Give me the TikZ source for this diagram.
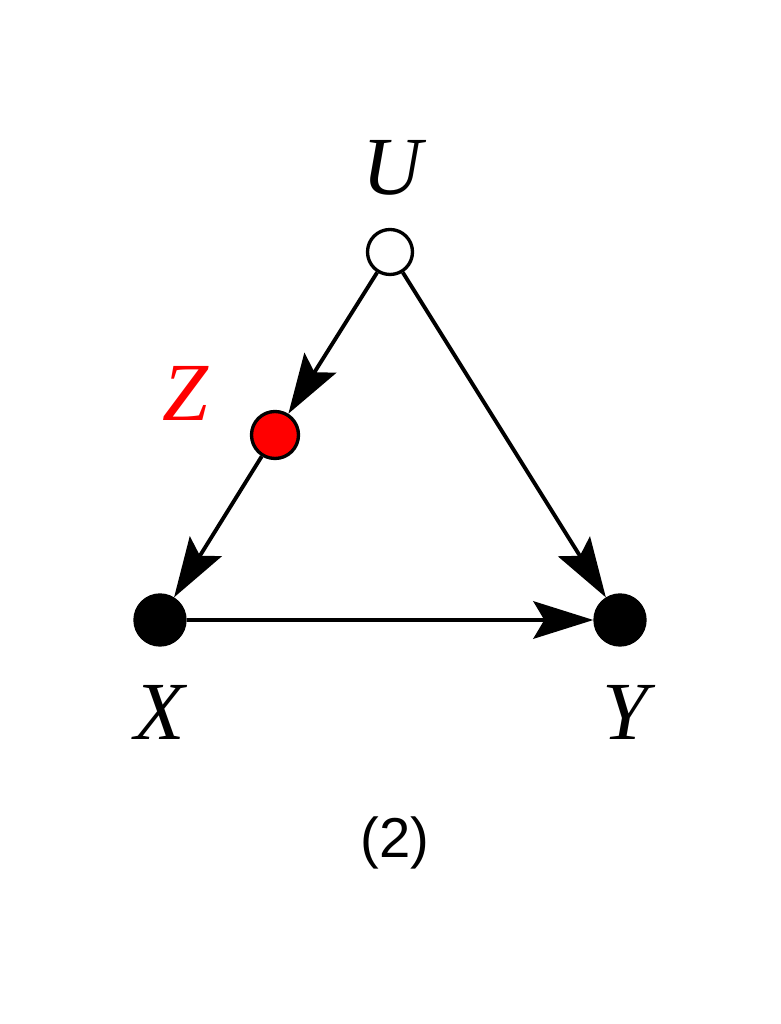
\documentclass[tikz,border=0pt]{standalone}
\usepackage{fontspec}
\setmainfont{Liberation Serif}
\newfontfamily\sansfont{Liberation Sans}
\usetikzlibrary{arrows.meta}
\begin{document}
\begin{tikzpicture}[
	vertex/.style={circle,draw,line width=1.9pt,inner sep=0pt,minimum size=#1},
	arr/.style={-{Stealth[length=1.2cm,width=0.75cm,inset=0.22cm]},line width=2.2pt},
	lab/.style={font=\fontsize{47}{50}\selectfont\itshape}]
	\useasboundingbox (0,0) rectangle (15.62,20.48);
	% Knoten
	\node[vertex=0.9cm,fill=white] (u) at (7.8,15.44) {};
	\node[vertex=0.94cm,fill=red] (z) at (5.5,11.78) {};
	\node[vertex=1.0cm,fill=black] (x) at (3.2,8.08) {};
	\node[vertex=1.0cm,fill=black] (y) at (12.4,8.08) {};
	% Beschriftung
	\node[lab] (ul) at (7.84,17.12) {U};
	\node[lab,text=red] (zl) at (3.7,12.62) {Z};
	\node[lab] (xl) at (3.2,6.24) {X};
	\node[lab] (yl) at (12.5,6.24) {Y};
	\node[font=\sansfont\fontsize{32}{36}\selectfont] (nr) at (7.9,3.62) {(2)};
	% Pfeile
	\draw[arr] (u) -- (z);
	\draw[arr] (z) -- (x);
	\draw[arr] (u) -- (y);
	\draw[arr] (x) -- (y);
\end{tikzpicture}
\end{document}
